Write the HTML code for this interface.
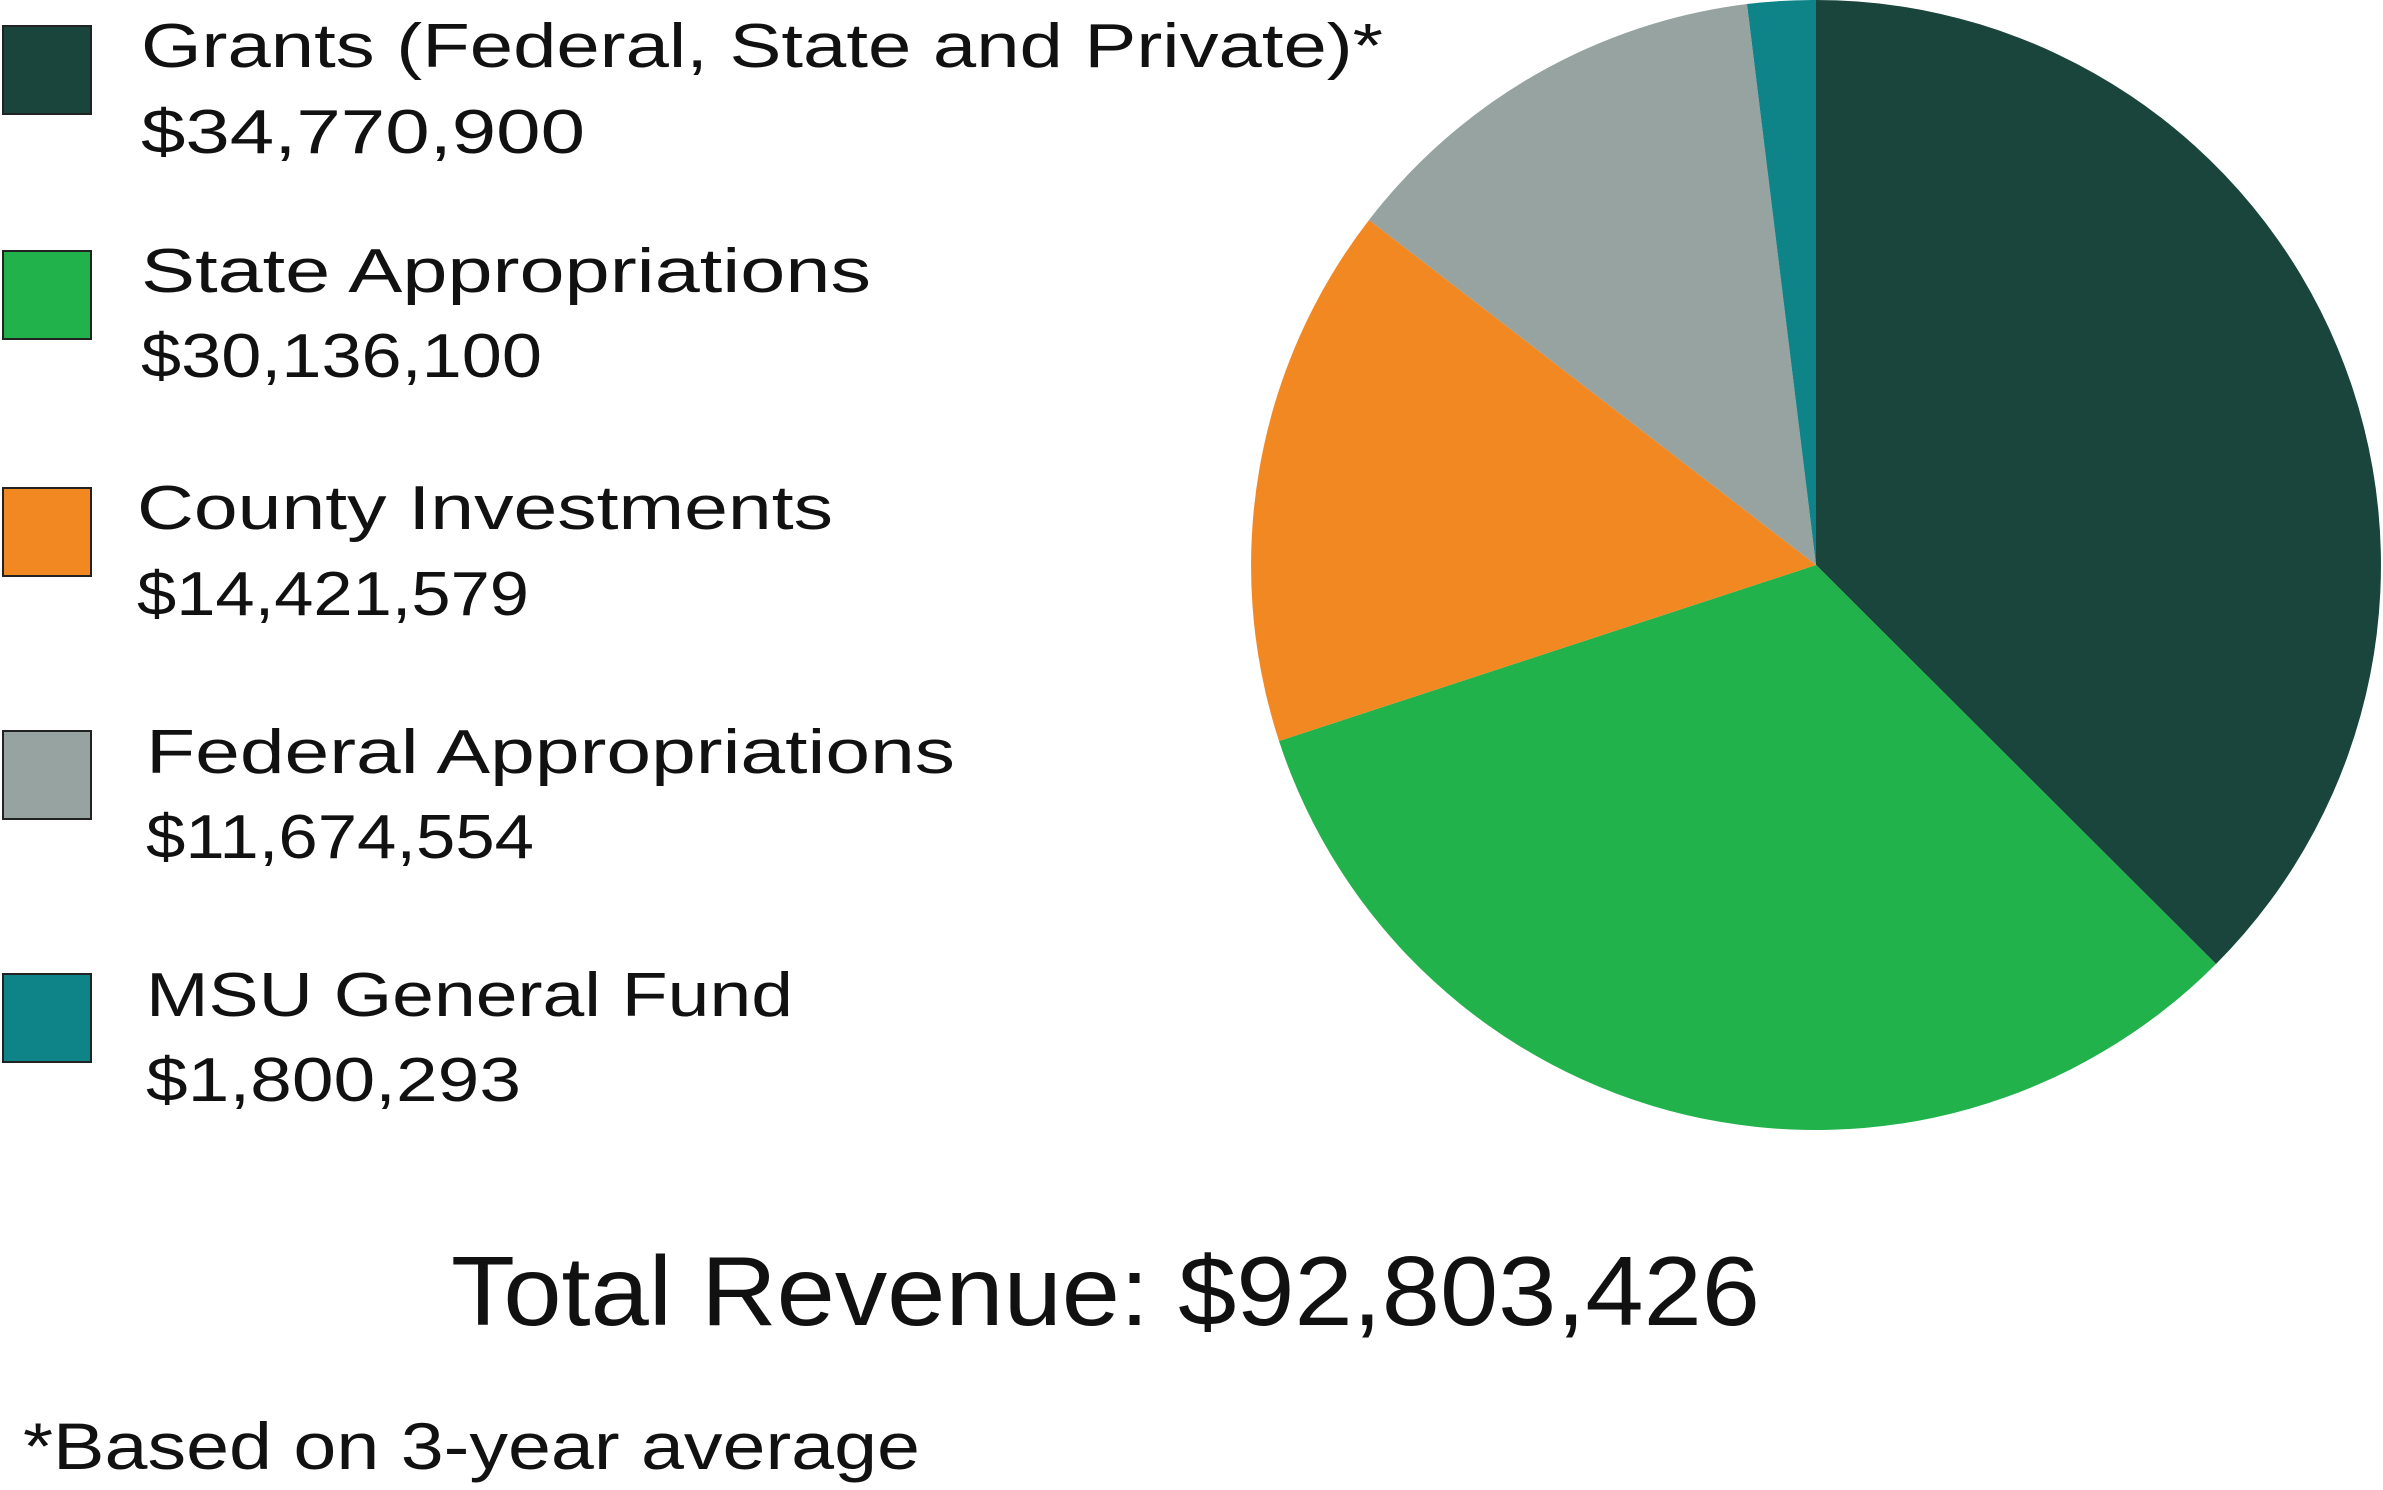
<!DOCTYPE html>
<html><head><meta charset="utf-8"><style>
html,body{margin:0;padding:0;background:#fff;}
svg{display:block;}
text{font-family:"Liberation Sans",sans-serif;fill:#111;}
</style></head><body>
<svg width="2383" height="1490" viewBox="0 0 2383 1490" xmlns="http://www.w3.org/2000/svg">
<path d="M1816,565 L1816,0 A565,565 0 0 1 2216,964 Z" fill="#19453c"/>
<path d="M1816,565 L2216,964 A565,565 0 0 1 1279,741 Z" fill="#22b24c"/>
<path d="M1816,565 L1279,741 A565,565 0 0 1 1369,220 Z" fill="#f28822"/>
<path d="M1816,565 L1369,220 A565,565 0 0 1 1747,4 Z" fill="#97a3a0"/>
<path d="M1816,565 L1747,4 A565,565 0 0 1 1816,0 Z" fill="#0e8489"/>

<rect x="3" y="26" width="88" height="88" fill="#19453c" stroke="#222" stroke-width="2"/>
<rect x="3" y="251" width="88" height="88" fill="#22b24c" stroke="#222" stroke-width="2"/>
<rect x="3" y="488" width="88" height="88" fill="#f28822" stroke="#222" stroke-width="2"/>
<rect x="3" y="731" width="88" height="88" fill="#97a3a0" stroke="#222" stroke-width="2"/>
<rect x="3" y="974" width="88" height="88" fill="#0e8489" stroke="#222" stroke-width="2"/>

<g font-size="62">
<text x="141" y="67" textLength="1242" lengthAdjust="spacingAndGlyphs">Grants (Federal, State and Private)*</text>
<text x="141" y="153" textLength="444" lengthAdjust="spacingAndGlyphs">$34,770,900</text>
<text x="141" y="292" textLength="730" lengthAdjust="spacingAndGlyphs">State Appropriations</text>
<text x="141" y="377" textLength="401" lengthAdjust="spacingAndGlyphs">$30,136,100</text>
<text x="137" y="529" textLength="696" lengthAdjust="spacingAndGlyphs">County Investments</text>
<text x="137" y="615" textLength="392" lengthAdjust="spacingAndGlyphs">$14,421,579</text>
<text x="146" y="773" textLength="809" lengthAdjust="spacingAndGlyphs">Federal Appropriations</text>
<text x="146" y="858" textLength="388" lengthAdjust="spacingAndGlyphs">$11,674,554</text>
<text x="146" y="1016" textLength="647" lengthAdjust="spacingAndGlyphs">MSU General Fund</text>
<text x="146" y="1101" textLength="375" lengthAdjust="spacingAndGlyphs">$1,800,293</text>
</g>
<text x="451" y="1325" font-size="98" textLength="1309" lengthAdjust="spacingAndGlyphs">Total Revenue: $92,803,426</text>
<text x="23" y="1469" font-size="66" textLength="897" lengthAdjust="spacingAndGlyphs">*Based on 3-year average</text>
</svg>
</body></html>
